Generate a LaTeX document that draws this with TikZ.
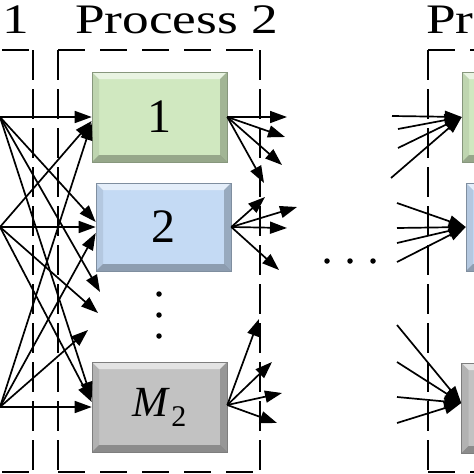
\documentclass[tikz,border=0pt]{standalone}
\usepackage{fontspec}
\setmainfont{Liberation Serif}
\usetikzlibrary{arrows.meta,calc}
\definecolor{gfill}{RGB}{208,232,192}
\definecolor{bfill}{RGB}{196,218,244}
\definecolor{kfill}{RGB}{194,194,194}
\begin{document}
\begin{tikzpicture}[x=1pt,y=-1pt,
  hdash/.style={line width=1.8pt, dash pattern=on 27pt off 15pt},
  vdash/.style={line width=1.8pt, dash pattern=on 30pt off 9pt},
  link/.style={line width=1.7pt, -{Triangle[length=17pt,width=12pt]}},
  pbox/.style={minimum width=135pt, minimum height=90pt, inner sep=0pt,
    draw=#1!65!black, line width=0.6pt, fill=#1,
    path picture={
      \fill[white,opacity=0.55] (path picture bounding box.north west) -- (path picture bounding box.north east)
        -- ([shift={(-7pt,-7pt)}]path picture bounding box.north east) -- ([shift={(7pt,-7pt)}]path picture bounding box.north west) -- cycle;
      \fill[black,opacity=0.28] (path picture bounding box.south west) -- (path picture bounding box.south east)
        -- ([shift={(-7pt,7pt)}]path picture bounding box.south east) -- ([shift={(7pt,7pt)}]path picture bounding box.south west) -- cycle;
      \fill[black,opacity=0.22] (path picture bounding box.north east) -- (path picture bounding box.south east)
        -- ([shift={(-7pt,7pt)}]path picture bounding box.south east) -- ([shift={(-7pt,-7pt)}]path picture bounding box.north east) -- cycle;
      \fill[black,opacity=0.08] (path picture bounding box.north west) -- (path picture bounding box.south west)
        -- ([shift={(7pt,7pt)}]path picture bounding box.south west) -- ([shift={(7pt,-7pt)}]path picture bounding box.north west) -- cycle;
    }},
  ttl/.style={inner sep=0pt, text height=28pt, text depth=0pt, font=\fontsize{42}{42}\selectfont},
  dot/.style={circle, fill=black, inner sep=0pt, minimum size=5.5pt}
]
\useasboundingbox (0,0) rectangle (474,474);
% middle title
\node[ttl, anchor=base west] (t2) at (75,33) {\scalebox{1.27}[1]{Process 2}};

\begin{scope}
\clip (0,0) rectangle (474,474);

% cut-off titles
\node[ttl, anchor=base east] (t1) at (29,33) {\scalebox{1.27}[1]{Process 1}};
\node[ttl, anchor=base west] (t3) at (426,33) {\scalebox{1.27}[1]{Process 3}};

% dashed process frames
\draw[hdash] (-40,50) -- (33,50);
\draw[vdash] (33,50) -- (33,480);
\draw[hdash] (-40,472) -- (33,472);
\draw[hdash] (58,50) -- (260,50);
\draw[vdash] (58,50) -- (58,480);
\draw[vdash] (260,50) -- (260,480);
\draw[hdash] (58,472) -- (260,472);
\draw[hdash] (428,50) -- (490,50);
\draw[vdash] (428,50) -- (428,480);
\draw[hdash] (428,472) -- (490,472);

% process 2 boxes
\node[pbox=gfill] (g2) at (159.5,117) {\fontsize{48}{48}\selectfont 1};
\node[pbox=bfill, minimum height=88pt] (b2) at (163.5,227) {\fontsize{48}{48}\selectfont 2};
\node[pbox=kfill] (k2) at (159.5,407) {\fontsize{43}{43}\selectfont\itshape M\kern3pt\raisebox{-10pt}{\upshape\fontsize{30}{30}\selectfont 2}};

% process 3 boxes
\node[pbox=gfill] (g3) at (529.5,117) {};
\node[pbox=bfill, minimum height=88pt] (b3) at (533.5,227) {};
\node[pbox=kfill] (k3) at (529,408) {};

% vertical dots
\node[dot] (v1) at (159,294) {};
\node[dot] (v2) at (159,315) {};
\node[dot] (v3) at (159,336) {};
% horizontal dots
\node[dot] (d1) at (327,261) {};
\node[dot] (d2) at (350,261) {};
\node[dot] (d3) at (373,261) {};

% process 1 outputs
\coordinate (s1) at (0,117);
\coordinate (s2) at (0,227);
\coordinate (s3) at (0,407);
\coordinate (h1) at (100,292);
\coordinate (h2) at (98,313);
\coordinate (h3) at (88,330);
\draw[link] (s1) -- (g2.west);
\draw[link] (s1) -- ($(b2.west)+(0,-5)$);
\draw[link] (s1) -- (h1);
\draw[link] (s1) -- ($(k2.west)+(0,-8)$);
\draw[link] (s2) -- ($(g2.west)+(0,4)$);
\draw[link] (s2) -- (b2.west);
\draw[link] (s2) -- (h2);
\draw[link] (s2) -- ($(k2.west)+(0,-5)$);
\draw[link] (s3) -- ($(g2.west)+(0,6)$);
\draw[link] (s3) -- ($(b2.west)+(0,6)$);
\draw[link] (s3) -- (h3);
\draw[link] (s3) -- (k2.west);

% process 2 outputs
\coordinate (o1) at (287,117);
\coordinate (o2) at (285,137);
\coordinate (o3) at (282,165);
\coordinate (o4) at (264,183);
\coordinate (o5) at (265,197);
\coordinate (o6) at (297,207);
\coordinate (o7) at (287,228);
\coordinate (o8) at (279,270);
\coordinate (o9) at (259,319);
\coordinate (o10) at (272,362);
\coordinate (o11) at (282,393);
\coordinate (o12) at (277,423);
\foreach \t in {o1,o2,o3,o4} \draw[link] (g2.east) -- (\t);
\foreach \t in {o5,o6,o7,o8} \draw[link] (b2.east) -- (\t);
\foreach \t in {o9,o10,o11,o12} \draw[link] ($(k2.east)+(0,-2)$) -- (\t);

% process 3 inputs
\coordinate (i1) at (392,116);
\coordinate (i2) at (398,129);
\coordinate (i3) at (398,148);
\coordinate (i4) at (391,178);
\coordinate (i5) at (397,203);
\coordinate (i6) at (397,228);
\coordinate (i7) at (397,243);
\coordinate (i8) at (397,262);
\coordinate (i9) at (397,325);
\coordinate (i10) at (397,362);
\coordinate (i11) at (397,397);
\coordinate (i12) at (397,423);
\foreach \s in {i1,i2,i3,i4} \draw[link] (\s) -- (g3.west);
\foreach \s in {i5,i6,i7,i8} \draw[link] (\s) -- (b3.west);
\foreach \s in {i9,i10,i11,i12} \draw[link] (\s) -- ($(k3.west)+(0,-5)$);
\end{scope}
\end{tikzpicture}
\end{document}
